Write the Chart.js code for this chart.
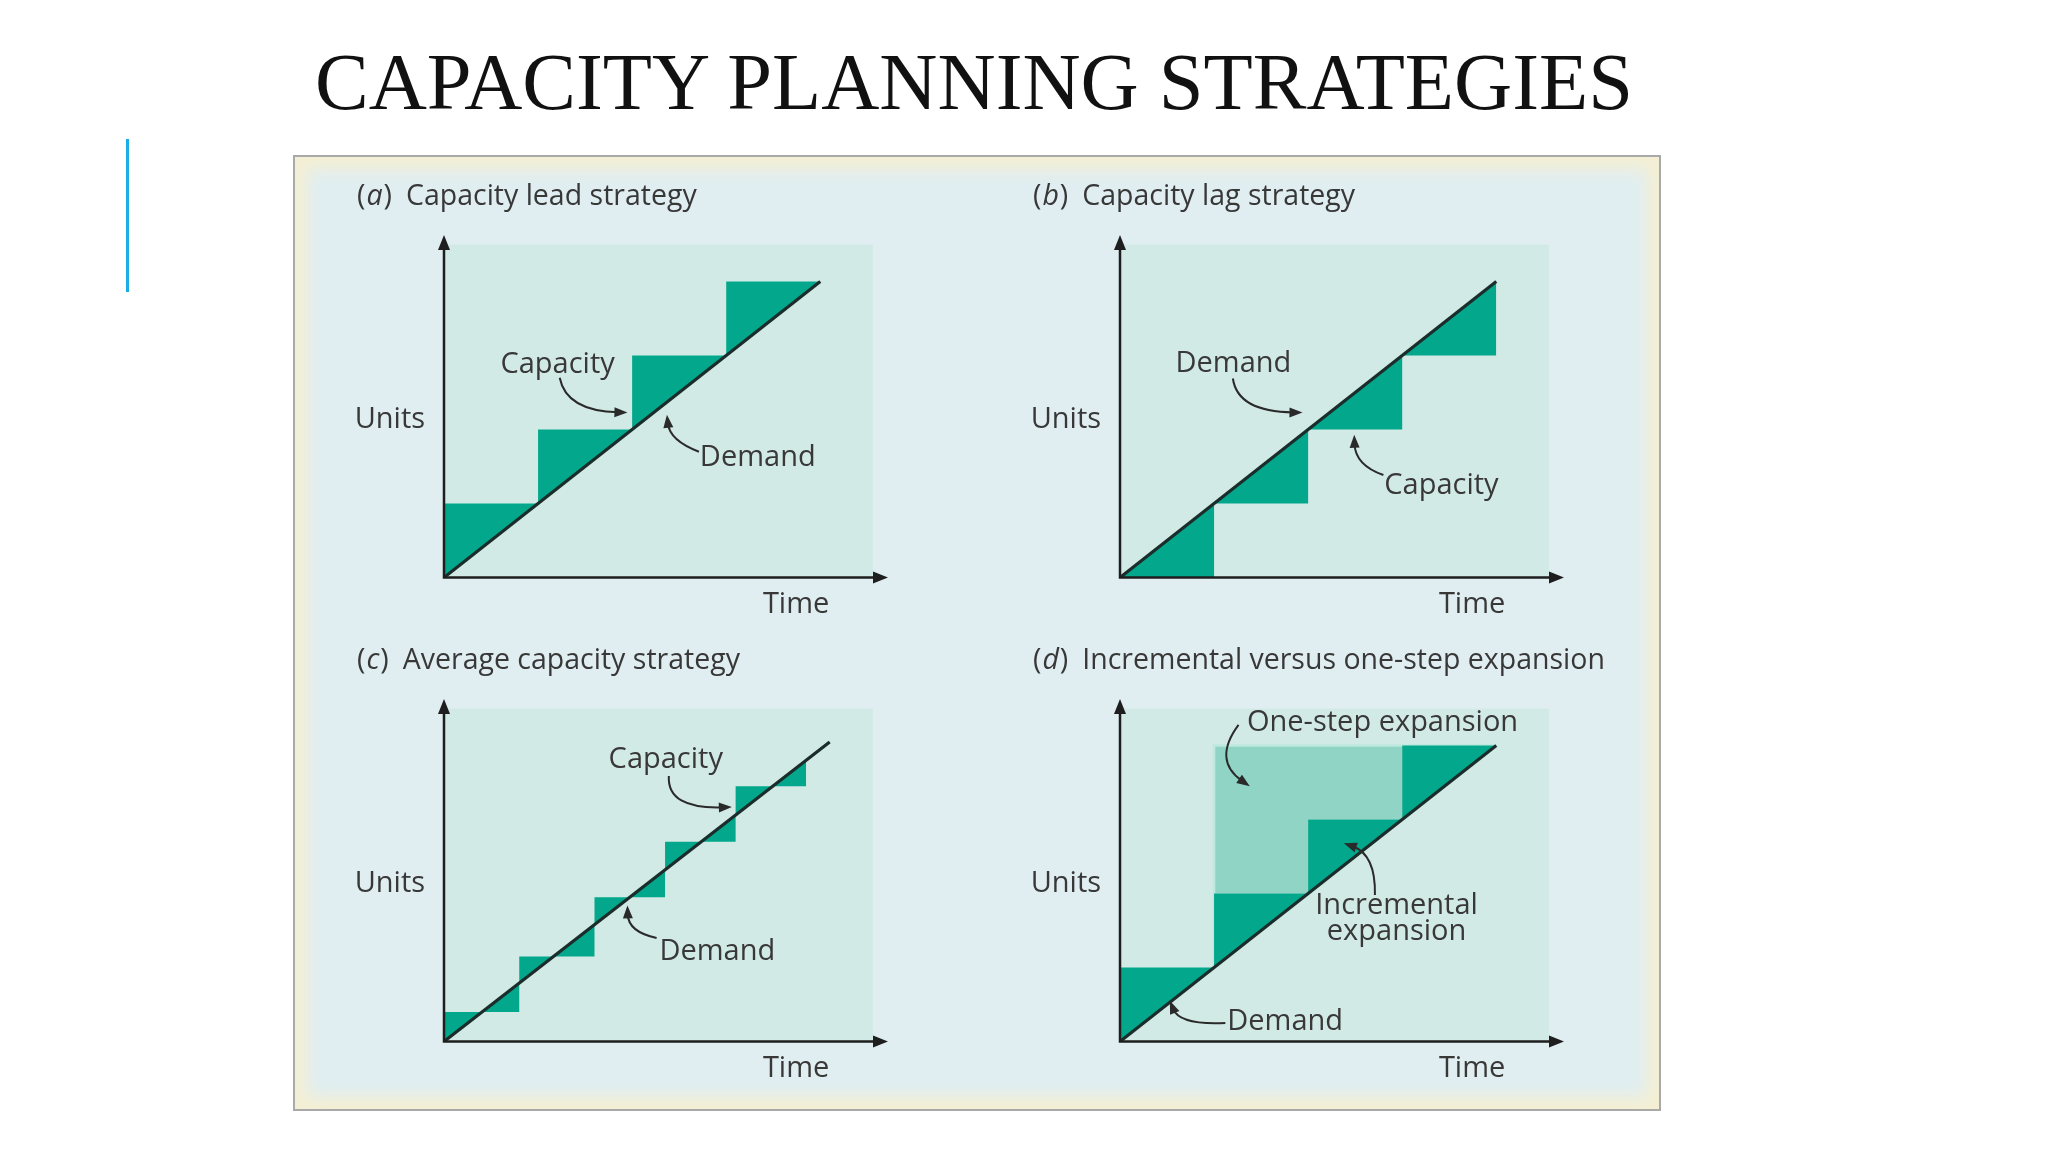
<!DOCTYPE html>
<html>
<head>
<meta charset="utf-8">
<script src="https://cdn.jsdelivr.net/npm/chart.js@4.4.1/dist/chart.umd.min.js"></script>
<style>
  html, body { margin:0; padding:0; background:#ffffff; width:2048px; height:1152px; overflow:hidden; }
  #title { position:absolute; left:315px; top:42px; margin:0; font-family:"Liberation Serif","Times New Roman",serif;
           font-weight:normal; font-size:80.5px; line-height:80px; color:#111111; white-space:nowrap; }
  #bar { position:absolute; left:126px; top:139px; width:3px; height:153px; background:#1aaee6; }
  #frame { position:absolute; left:293px; top:155px; width:1368px; height:956px; box-sizing:border-box;
           border:2px solid #a9a9a9; background:#e0eef1; box-shadow: inset 0 0 16px 12px #f4efd3; }
  canvas.panel { position:absolute; }
</style>
</head>
<body>
<h1 id="title">CAPACITY PLANNING STRATEGIES</h1>
<div id="bar"></div>
<div id="frame"></div>
<canvas id="pa" class="panel" width="640" height="460" style="left:330px;top:170px;width:640px;height:460px"></canvas>
<canvas id="pb" class="panel" width="640" height="460" style="left:1006px;top:170px;width:640px;height:460px"></canvas>
<canvas id="pc" class="panel" width="640" height="460" style="left:330px;top:634px;width:640px;height:460px"></canvas>
<canvas id="pd" class="panel" width="640" height="460" style="left:1006px;top:634px;width:640px;height:460px"></canvas>
<script>
// ---------------- data ----------------
// (a) capacity lead
const leadEdges  = [0, 1, 2, 3, 4];
const leadLevels = [1, 2, 3, 4];
const demandTimeA  = [0, 4];
const demandUnitsA = [0, 4];
// (b) capacity lag
const lagEdges  = [0, 1, 2, 3, 4];
const lagLevels = [0, 1, 2, 3];
const demandTimeB  = [0, 4];
const demandUnitsB = [0, 4];
// (c) average capacity
const avgEdges  = [0, 0.8, 1.6, 2.35, 3.1, 3.85];
const avgLevels = [0.4, 1.15, 1.95, 2.7, 3.45];
const demandTimeC  = [0, 4.1];
const demandUnitsC = [0, 4.05];
// (d) incremental vs one-step
const incEdges  = [0, 1, 2, 3, 4];
const incLevels = [1, 2, 3, 4];
const oneStepEdges  = [0, 1, 4];
const oneStepLevels = [1, 4];
const demandTimeD  = [0, 4];
const demandUnitsD = [0, 4];
// axis extents (time, units) and shaded plot region
const timeMax = 4.72, unitsMax = 4.63;
const shadeTime = 4.56, shadeUnits = 4.5;

// ---------------- styles ----------------
const TEAL = '#03a78b', LIGHT = '#8fd4c4', LIGHT_EDGE = '#bde9de';
const DEMAND = '#1b2d2b', AXIS = '#1e1e1e', SHADE = '#d2eae6', TEXT = '#383838';
const FONT = '"Open Sans", "Noto Sans", sans-serif';

function stepPoints(edges, levels) {
  const pts = [];
  for (let i = 0; i < levels.length; i++) {
    pts.push({x: edges[i], y: levels[i]});
    pts.push({x: edges[i + 1], y: levels[i]});
  }
  return pts;
}
function linePoints(xs, ys) { return xs.map((v, i) => ({x: v, y: ys[i]})); }

function demandSet(xs, ys) {
  return { label:'Demand', data: linePoints(xs, ys), borderColor: DEMAND, borderWidth: 3.2,
           pointRadius: 0, fill: false, tension: 0 };
}
function capacitySet(edges, levels, color, target) {
  return { label:'Capacity', data: stepPoints(edges, levels), borderColor: 'rgba(0,0,0,0)', borderWidth: 0,
           backgroundColor: color, pointRadius: 0, fill: target, tension: 0 };
}

function drawArrowHead(ctx, x, y, ang, len, half) {
  ctx.beginPath();
  ctx.moveTo(x, y);
  ctx.lineTo(x - len * Math.cos(ang) + half * Math.sin(ang), y - len * Math.sin(ang) - half * Math.cos(ang));
  ctx.lineTo(x - len * Math.cos(ang) - half * Math.sin(ang), y - len * Math.sin(ang) + half * Math.cos(ang));
  ctx.closePath();
  ctx.fill();
}

function decor(panel) {
  return {
    id: 'decor',
    beforeDraw(chart) {
      const {ctx, scales: {x, y}} = chart;
      const x0 = x.getPixelForValue(0), x1 = x.getPixelForValue(shadeTime);
      const y0 = y.getPixelForValue(0), y1 = y.getPixelForValue(shadeUnits);
      ctx.save();
      ctx.fillStyle = SHADE;
      ctx.fillRect(x0, y1, x1 - x0, y0 - y1);
      ctx.restore();
    },
    afterDatasetsDraw(chart) {
      const {ctx, scales: {x, y}, chartArea} = chart;
      const px = v => x.getPixelForValue(v), py = v => y.getPixelForValue(v);
      ctx.save();
      // axes with arrows
      const ox = px(0), oy = py(0), tx = px(timeMax), ty = py(unitsMax);
      ctx.strokeStyle = AXIS; ctx.fillStyle = AXIS; ctx.lineWidth = 2.5; ctx.lineCap = 'butt';
      ctx.beginPath();
      ctx.moveTo(ox, oy + 1.25); ctx.lineTo(ox, ty + 10);
      ctx.moveTo(ox - 1.25, oy); ctx.lineTo(tx - 10, oy);
      ctx.stroke();
      drawArrowHead(ctx, ox, ty, -Math.PI / 2, 15, 6);
      drawArrowHead(ctx, tx, oy, 0, 15, 6);

      // title
      ctx.fillStyle = TEXT;
      ctx.textBaseline = 'alphabetic';
      ctx.textAlign = 'left';
      let tX = 27, tY = chartArea.top - 30;
      const up = '28.5px ' + FONT, it = 'italic 28.5px ' + FONT;
      ctx.font = up; ctx.fillText('(', tX, tY); tX += ctx.measureText('(').width + 1;
      ctx.font = it; ctx.fillText(panel.letter, tX, tY); tX += ctx.measureText(panel.letter).width + 1;
      ctx.font = up; ctx.fillText(')', tX, tY); tX += ctx.measureText(')').width + 14;
      ctx.fillText(panel.title, tX, tY);

      // labels
      ctx.font = '29px ' + FONT;
      for (const l of panel.labels) {
        ctx.textAlign = l.align || 'left';
        ctx.fillText(l.text, px(l.x), py(l.y));
      }

      // curved pointer arrows
      ctx.strokeStyle = '#2a2a2a'; ctx.fillStyle = '#2a2a2a'; ctx.lineWidth = 2;
      for (const a of panel.arrows) {
        const x0 = px(a.from[0]), y0 = py(a.from[1]);
        const cx = px(a.ctrl[0]), cy = py(a.ctrl[1]);
        const x1 = px(a.to[0]), y1 = py(a.to[1]);
        const ang = Math.atan2(y1 - cy, x1 - cx);
        const ex = x1 - 9 * Math.cos(ang), ey = y1 - 9 * Math.sin(ang);
        ctx.beginPath();
        ctx.moveTo(x0, y0);
        ctx.quadraticCurveTo(cx, cy, ex, ey);
        ctx.stroke();
        drawArrowHead(ctx, x1, y1, ang, 13, 5);
      }
      ctx.restore();
    }
  };
}

function makeChart(id, datasets, panel) {
  return new Chart(document.getElementById(id), {
    type: 'line',
    data: { datasets },
    options: {
      responsive: false,
      animation: false,
      events: [],
      layout: { padding: { left: 114, right: 82, top: 65, bottom: 52.5 } },
      scales: {
        x: { type: 'linear', min: 0, max: timeMax, display: false },
        y: { type: 'linear', min: 0, max: unitsMax, display: false }
      },
      plugins: { legend: { display: false }, tooltip: { enabled: false }, title: { display: false } }
    },
    plugins: [decor(panel)]
  });
}

const common = [
  { text: 'Units', x: -0.95, y: 2.02 },
  { text: 'Time',  x: 3.39,  y: -0.48 }
];

// (a)
makeChart('pa',
  [ demandSet(demandTimeA, demandUnitsA), capacitySet(leadEdges, leadLevels, TEAL, 0) ],
  { letter: 'a', title: 'Capacity lead strategy',
    labels: common.concat([ { text: 'Capacity', x: 0.60, y: 2.76 }, { text: 'Demand', x: 2.72, y: 1.51 } ]),
    arrows: [ { from: [1.23, 2.70], ctrl: [1.30, 2.25], to: [1.95, 2.23] },
              { from: [2.71, 1.70], ctrl: [2.40, 1.85], to: [2.37, 2.20] } ] });

// (b)
makeChart('pb',
  [ demandSet(demandTimeB, demandUnitsB), capacitySet(lagEdges, lagLevels, TEAL, 0) ],
  { letter: 'b', title: 'Capacity lag strategy',
    labels: common.concat([ { text: 'Demand', x: 0.59, y: 2.78 }, { text: 'Capacity', x: 2.81, y: 1.13 } ]),
    arrows: [ { from: [1.20, 2.69], ctrl: [1.25, 2.24], to: [1.94, 2.23] },
              { from: [2.80, 1.385], ctrl: [2.50, 1.52], to: [2.49, 1.93] } ] });

// (c)
makeChart('pc',
  [ demandSet(demandTimeC, demandUnitsC), capacitySet(avgEdges, avgLevels, TEAL, 0) ],
  { letter: 'c', title: 'Average capacity strategy',
    labels: common.concat([ { text: 'Capacity', x: 1.75, y: 3.70 }, { text: 'Demand', x: 2.29, y: 1.10 } ]),
    arrows: [ { from: [2.39, 3.59], ctrl: [2.37, 3.14], to: [3.06, 3.17] },
              { from: [2.26, 1.40], ctrl: [1.96, 1.48], to: [1.95, 1.84] } ] });

// (d)
const oneStep = capacitySet(oneStepEdges, oneStepLevels, LIGHT, 1);
oneStep.label = 'One-step expansion';
oneStep.borderWidth = 2.5;
oneStep.borderColor = LIGHT_EDGE;
oneStep.segment = { borderColor: c => (c.p0.parsed.y < 1.5 && c.p1.parsed.y < 1.5) ? 'rgba(0,0,0,0)' : LIGHT_EDGE };
const incSet = capacitySet(incEdges, incLevels, TEAL, 0);
incSet.label = 'Incremental expansion';
makeChart('pd',
  [ demandSet(demandTimeD, demandUnitsD), incSet, oneStep ],
  { letter: 'd', title: 'Incremental versus one-step expansion',
    labels: common.concat([
      { text: 'One-step expansion', x: 1.35, y: 4.20 },
      { text: 'Incremental', x: 2.94, y: 1.73, align: 'center' },
      { text: 'expansion',   x: 2.94, y: 1.37, align: 'center' },
      { text: 'Demand', x: 1.14, y: 0.15 } ]),
    arrows: [ { from: [1.26, 4.28], ctrl: [0.98, 3.80], to: [1.38, 3.45] },
              { from: [2.71, 1.98], ctrl: [2.72, 2.53], to: [2.38, 2.68] },
              { from: [1.12, 0.25], ctrl: [0.635, 0.22], to: [0.53, 0.55] } ] });
</script>
</body>
</html>
